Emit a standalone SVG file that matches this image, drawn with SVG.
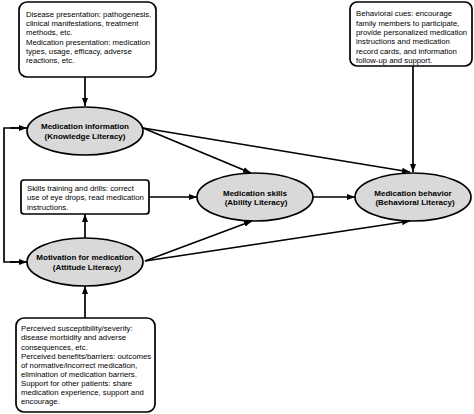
<svg xmlns="http://www.w3.org/2000/svg" width="474" height="414" viewBox="0 0 474 414">
<defs>
<marker id="ah" markerWidth="8" markerHeight="6" refX="8" refY="3" orient="auto" markerUnits="userSpaceOnUse">
<path d="M0,0 L8,3 L0,6 Z" fill="#000"/>
</marker>
<style>
.box{fill:#fff;stroke:#000;stroke-width:1.7}
.ell{fill:#d9d9d9;stroke:#000;stroke-width:1.7}
.t{font-family:"Liberation Sans",Arial,sans-serif;font-size:7.75px;fill:#000}
.b{font-family:"Liberation Sans",Arial,sans-serif;font-size:8px;font-weight:bold;fill:#000;text-anchor:middle}
.c{fill:none;stroke:#000;stroke-width:1.7}
</style>
</defs>
<rect width="474" height="414" fill="#fff"/>
<g id="connectors">
<line class="c" x1="85" y1="77" x2="85" y2="106" marker-end="url(#ah)"/>
<line class="c" x1="413" y1="66" x2="413" y2="172" marker-end="url(#ah)"/>
<line class="c" x1="143" y1="128" x2="251" y2="173" marker-end="url(#ah)"/>
<line class="c" x1="143" y1="128" x2="410" y2="172" marker-end="url(#ah)"/>
<line class="c" x1="145" y1="261" x2="252" y2="221" marker-end="url(#ah)"/>
<line class="c" x1="145" y1="261" x2="410" y2="221" marker-end="url(#ah)"/>
<line class="c" x1="149" y1="197" x2="197" y2="197" marker-end="url(#ah)"/>
<line class="c" x1="313" y1="197" x2="355" y2="197" marker-end="url(#ah)"/>
<line class="c" x1="85" y1="238" x2="85" y2="214" marker-end="url(#ah)"/>
<line class="c" x1="85" y1="318" x2="85" y2="286" marker-end="url(#ah)"/>
<polyline class="c" points="20,128 4,128 4,262 20,262" stroke-width="2"/>
<line class="c" x1="10" y1="128" x2="27" y2="128" marker-end="url(#ah)"/>
<line class="c" x1="10" y1="262" x2="27" y2="262" marker-end="url(#ah)"/>
</g>
<g id="box-disease">
<rect class="box" x="19" y="2" width="137" height="75" rx="8"/>
<text class="t" x="26" y="17">Disease presentation: pathogenesis,</text>
<text class="t" x="26" y="26">clinical manifestations, treatment</text>
<text class="t" x="26" y="35">methods, etc.</text>
<text class="t" x="26" y="44.5">Medication presentation: medication</text>
<text class="t" x="26" y="53.5">types, usage, efficacy, adverse</text>
<text class="t" x="26" y="62.5">reactions, etc.</text>
</g>
<g id="box-cues">
<rect class="box" x="350" y="2" width="122" height="64" rx="7"/>
<text class="t" x="356" y="16">Behavioral cues: encourage</text>
<text class="t" x="356" y="25.5">family members to participate,</text>
<text class="t" x="356" y="35">provide personalized medication</text>
<text class="t" x="356" y="44">instructions and medication</text>
<text class="t" x="356" y="53.5">record cards, and information</text>
<text class="t" x="356" y="62.5">follow-up and support.</text>
</g>
<g id="node-info">
<ellipse class="ell" cx="85" cy="131" rx="58" ry="24"/>
<text class="b" x="85" y="129">Medication information</text>
<text class="b" x="85" y="138.5">(Knowledge Literacy)</text>
</g>
<g id="box-skills">
<rect class="box" x="21" y="180" width="128" height="34" rx="3"/>
<text class="t" x="27" y="190.5">Skills training and drills: correct</text>
<text class="t" x="27" y="200">use of eye drops, read medication</text>
<text class="t" x="27" y="209.5">instructions.</text>
</g>
<g id="node-skills">
<ellipse class="ell" cx="255" cy="197" rx="58" ry="24"/>
<text class="b" x="255" y="195.5">Medication skills</text>
<text class="b" x="256" y="205">(Ability Literacy)</text>
</g>
<g id="node-behavior">
<ellipse class="ell" cx="413" cy="197" rx="58" ry="24"/>
<text class="b" x="413" y="195.5">Medication behavior</text>
<text class="b" x="415" y="205">(Behavioral Literacy)</text>
</g>
<g id="node-motivation">
<ellipse class="ell" cx="85" cy="262" rx="58" ry="24"/>
<text class="b" x="85" y="260">Motivation for medication</text>
<text class="b" x="87" y="269.5">(Attitude Literacy)</text>
</g>
<g id="box-perceived">
<rect class="box" x="16" y="318" width="139" height="94" rx="8"/>
<text class="t" x="21" y="331">Perceived susceptibility/severity:</text>
<text class="t" x="21" y="340">disease morbidity and adverse</text>
<text class="t" x="21" y="349.5">consequences, etc.</text>
<text class="t" x="21" y="358.5">Perceived benefits/barriers: outcomes</text>
<text class="t" x="21" y="367.5">of normative/incorrect medication,</text>
<text class="t" x="21" y="376.5">elimination of medication barriers.</text>
<text class="t" x="21" y="385.5">Support for other patients: share</text>
<text class="t" x="21" y="394.5">medication experience, support and</text>
<text class="t" x="21" y="403.5">encourage.</text>
</g>
</svg>
